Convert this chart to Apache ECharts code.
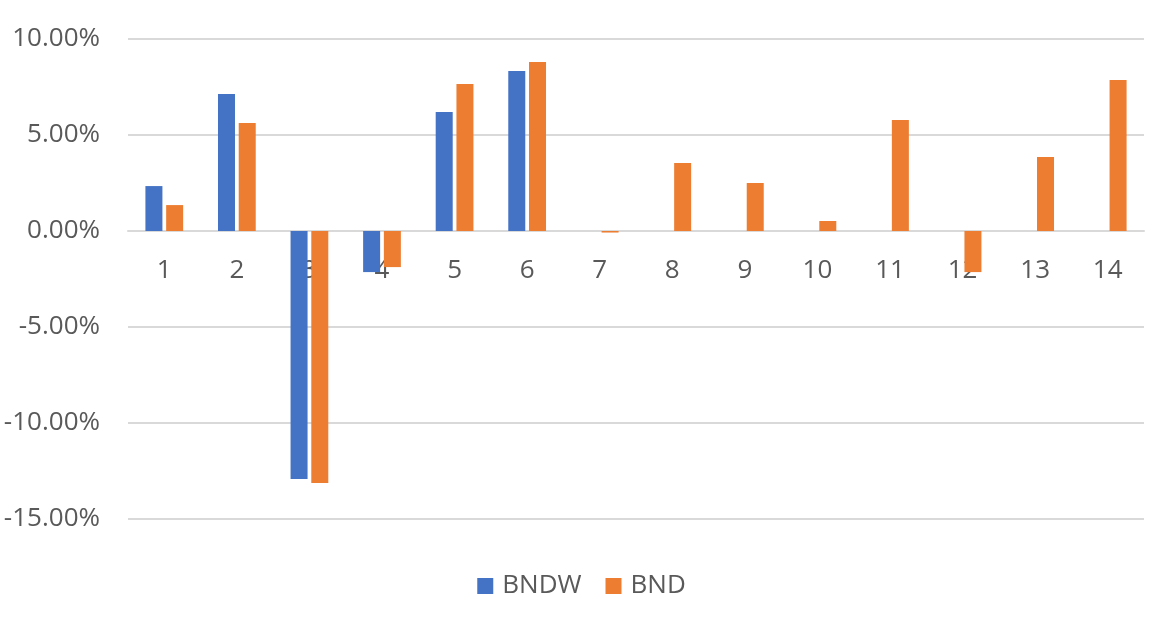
<!DOCTYPE html>
<html>
<head>
<meta charset="utf-8">
<script src="https://cdn.jsdelivr.net/npm/echarts@6.0.0/dist/echarts.min.js"></script>
<style>
  html, body { margin: 0; padding: 0; background: #fff; }
  #chart { width: 1163px; height: 618px; }
</style>
</head>
<body>
<div id="chart"></div>
<script>
// values in percent
const categories = ['1', '2', '3', '4', '5', '6', '7', '8', '9', '10', '11', '12', '13', '14'];
const bndw = [2.34, 7.14, -12.92, -2.14, 6.2, 8.33, null, null, null, null, null, null, null, null];
const bnd = [1.35, 5.63, -13.13, -1.88, 7.66, 8.8, -0.08, 3.54, 2.5, 0.52, 5.78, -2.14, 3.85, 7.86];

const textColor = '#595959';
const lineColor = '#D9D9D9';
const font = '"Open Sans", sans-serif';

const chart = echarts.init(document.getElementById('chart'));

// grid: 0% line sits 288px above the bottom edge (-15%)
chart.setOption({
  animation: false,
  textStyle: { fontFamily: font },
  legend: {
    bottom: 14,
    left: 'center',
    itemWidth: 16,
    itemHeight: 16,
    itemGap: 24,
    icon: 'rect',
    textStyle: { fontSize: 26, color: textColor, fontFamily: font, padding: [0, 0, 0, 4] }
  },
  grid: {
    left: 128,
    right: 19,
    top: 39,
    bottom: 99,
    containLabel: false
  },
  xAxis: {
    type: 'category',
    data: categories,
    position: 'bottom',
    offset: -288,
    z: 0,
    axisTick: { show: false },
    axisLine: { onZero: false, lineStyle: { color: lineColor, width: 2 } },
    axisLabel: { fontSize: 26, color: textColor, margin: 27, fontFamily: font }
  },
  yAxis: {
    type: 'value',
    min: -15,
    max: 10,
    interval: 5,
    axisLine: { show: false },
    axisTick: { show: false },
    splitLine: { lineStyle: { color: lineColor, width: 2 } },
    axisLabel: {
      fontSize: 26,
      color: textColor,
      margin: 28,
      fontFamily: font,
      formatter: v => v.toFixed(2) + '%'
    }
  },
  series: [
    {
      name: 'BNDW',
      type: 'bar',
      data: bndw,
      barWidth: 17,
      barGap: '22%',
      z: 10,
      itemStyle: { color: '#4472C4' }
    },
    {
      name: 'BND',
      type: 'bar',
      data: bnd,
      barWidth: 17,
      barGap: '22%',
      z: 10,
      itemStyle: { color: '#ED7D31' }
    }
  ]
});
</script>
</body>
</html>
